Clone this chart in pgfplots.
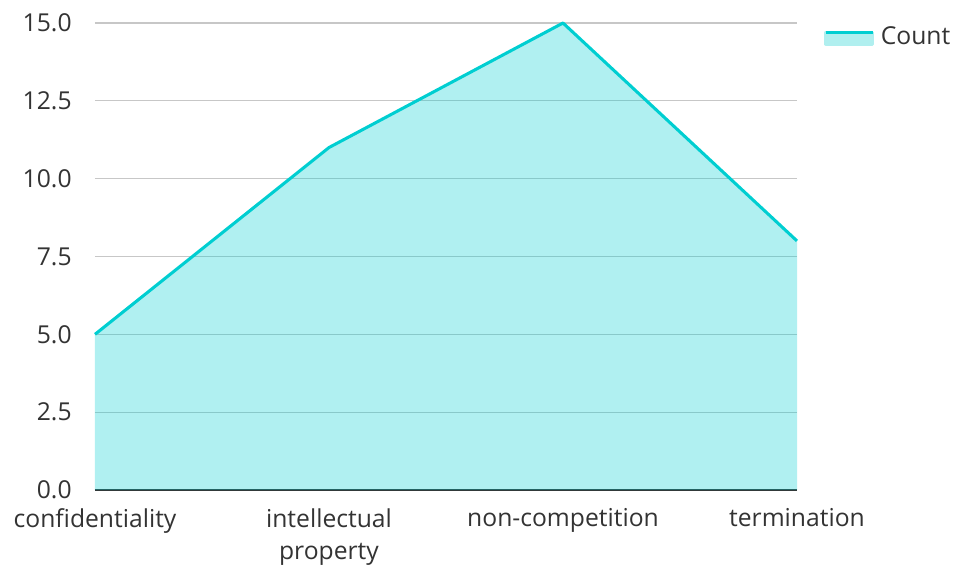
\documentclass[border=0pt]{standalone}
\usepackage{pgfplots}
\pgfplotsset{compat=1.18}
\usepackage{fontspec}
\setmainfont{Open Sans}
\definecolor{linec}{HTML}{00CED1}
\definecolor{fillc}{HTML}{B0EFEF}
\definecolor{txt}{HTML}{333333}
\begin{document}
\begin{tikzpicture}[font=\fontsize{18.5}{22}\selectfont, x=1pt, y=1pt]
\path[use as bounding box] (-71.25,-55.5) rectangle (643.5,367.5);
\begin{axis}[
  at={(0,0)}, anchor=south west,
  scale only axis, width=526.5pt, height=350.25pt,
  xmin=0, xmax=3, ymin=0, ymax=15,
  xtick={0,1,2,3},
  xticklabels={confidentiality,{intellectual\\property},non-competition,termination},
  xticklabel style={align=center, text=txt, anchor=north, yshift=-10.5pt, font=\fontsize{18.5}{24}\selectfont},
  ytick={0,2.5,5,7.5,10,12.5,15},
  yticklabel style={text=txt, /pgf/number format/fixed, /pgf/number format/fixed zerofill, /pgf/number format/precision=1, xshift=-14pt},
  /pgf/number format/assume math mode=true,
  axis lines=left,
  axis line style={-},
  y axis line style={draw=none},
  x axis line style={draw=txt, line width=1.2pt},
  major tick length=0pt,
  ymajorgrids,
  grid style={draw=black!22, line width=0.8pt},
  axis on top=false,
  legend style={at={(rel axis cs:1.033,1.005)}, anchor=north west, draw=none, fill=none, font=\fontsize{18.5}{22}\selectfont, text=txt, legend cell align=left, nodes={inner xsep=5pt}},
  legend image code/.code={
    \fill[fillc] (0pt,-6pt) rectangle (35pt,3pt);
    \draw[linec, line width=2.3pt] (0pt,3pt)--(35pt,3pt);
  },
  clip=false,
]
\addplot[fill=linec, fill opacity=0.31, draw=none, forget plot] coordinates {(0,5) (1,11) (2,15) (3,8)} \closedcycle;
\addplot[draw=linec, line width=2.3pt, line join=round] coordinates {(0,5) (1,11) (2,15) (3,8)};
\addlegendentry{Count}
\end{axis}
\end{tikzpicture}
\end{document}
